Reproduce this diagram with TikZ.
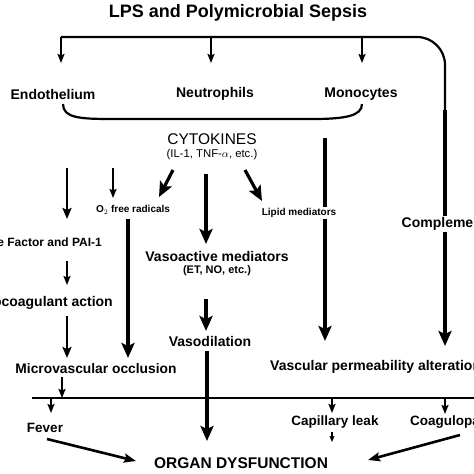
\documentclass[tikz,border=0pt]{standalone}
\usepackage{fontspec}
\setmainfont{Liberation Sans}
\usetikzlibrary{arrows.meta}
\begin{document}
\begin{tikzpicture}[x=1pt,y=-1pt,
  txt/.style={inner sep=0pt, font=\bfseries\fontsize{#1}{#1}\selectfont},
  txt/.default=12,
  rtxt/.style={inner sep=0pt, font=\fontsize{#1}{#1}\selectfont},
  wtxt/.style={txt=#1, fill=white, inner sep=1.5pt},
  sarr/.style={line width=1.8pt, -{Stealth[length=9pt,width=7pt,inset=1.5pt]}},
  marr/.style={line width=2.4pt, -{Stealth[length=11pt,width=9pt,inset=2pt]}},
  barr/.style={line width=3.2pt, -{Stealth[length=15pt,width=13pt,inset=3pt]}},
  thin/.style={line width=1.6pt}]
\useasboundingbox (0,0) rectangle (474,474);
\clip (0,0) rectangle (474,474);
\fill[white] (0,0) rectangle (474,474);

% texts
\node[txt=18] (title) at (238,13) {LPS and Polymicrobial Sepsis};
\node[txt=14] (endo) at (53,94) {Endothelium};
\node[txt=14] (neut) at (215,94) {Neutrophils};
\node[txt=14] (mono) at (361,94) {Monocytes};
\node[rtxt=15.5] (cyto) at (212,139) {CYTOKINES};
\node[rtxt=11.3] (cytoex) at (212,155) {(IL-1, TNF-$\alpha$, etc.)};
\node[txt=12] (tf) [anchor=east] at (102,242) {Tissue Factor and PAI-1};
\node[txt=10] (o2) at (133,210) {O$_2$ free radicals};
\node[txt=14] (proc) [anchor=east] at (113,303) {Procoagulant action};
\node[txt=13.8] (micro) at (96,369) {Microvascular occlusion};
\node[txt=14] (vaso) at (217,256) {Vasoactive mediators};
\node[txt=11] (vasoex) at (217,271) {(ET, NO, etc.)};
\node[txt=14] (vdil) at (210,341) {Vasodilation};
\node[txt=14] (vperm) [anchor=west] at (270,367) {Vascular permeability alterations};
\node[txt=13.5] (fever) at (45,428) {Fever};
\node[txt=15.5] (organ) at (241,463) {ORGAN DYSFUNCTION};
\node[txt=13.5] (cap) at (335,422) {Capillary leak};
\node[txt=13.5] (coag) [anchor=west] at (410,422) {Coagulopathy};

% coordinates
\coordinate (t1) at (61,37);
\coordinate (t2) at (211,37);
\coordinate (t3) at (362,37);
\coordinate (bl) at (63,104);
\coordinate (br) at (362,104);

% top distribution line
\draw[line width=2.2pt, rounded corners=28pt] (t1) -- (445,37) -- (445,120);
\draw[barr] (445,110) -- (445,346);
\node[wtxt=14, anchor=west] (compl) at (400,224) {Complement};
\draw[sarr] (t1) -- (61,63);
\draw[sarr] (t2) -- (211,63);
\draw[sarr] (t3) -- (362,63);

% brace
\draw[line width=2.2pt] (bl) .. controls (63,118) and (80,119) .. (112,119) -- (312,119) .. controls (345,119) and (362,116) .. (br);

% cytokine arrows
\draw[marr] (67,168) -- (67,219);
\draw[sarr] (113,168) -- (113,198);
\draw[barr] (173,170) -- (159,197);
\draw[barr] (206,174) -- (206,244);
\draw[barr] (245,170) -- (262,201);
\draw[barr] (325,138) -- (325,341);
\node[wtxt=10] (lipid) at (299,213) {Lipid mediators};

% left column
\draw[sarr] (67,261) -- (67,285);
\draw[marr] (67,316) -- (67,358);
\draw[barr] (128,219) -- (128,358);
\draw[sarr] (62,377) -- (62,398);

% middle
\draw[barr] (206,299) -- (206,331);
\draw[barr] (207,351) -- (207,441);

% horizontal line
\draw[thin] (32,398) -- (474,398);
\draw[sarr] (51,398) -- (51,413);
\draw[line width=2.6pt, -{Stealth[length=12pt,width=9pt,inset=2pt]}] (47,439) -- (136,461);
\draw[sarr] (332,398) -- (332,413);
\draw[line width=1.2pt, -{Stealth[length=6pt,width=5pt,inset=1pt]}] (332,432) -- (332,442);
\draw[sarr] (445,398) -- (445,414);
\draw[line width=2.6pt, -{Stealth[length=12pt,width=9pt,inset=2pt]}] (460,435) -- (368,460);
\end{tikzpicture}
\end{document}
